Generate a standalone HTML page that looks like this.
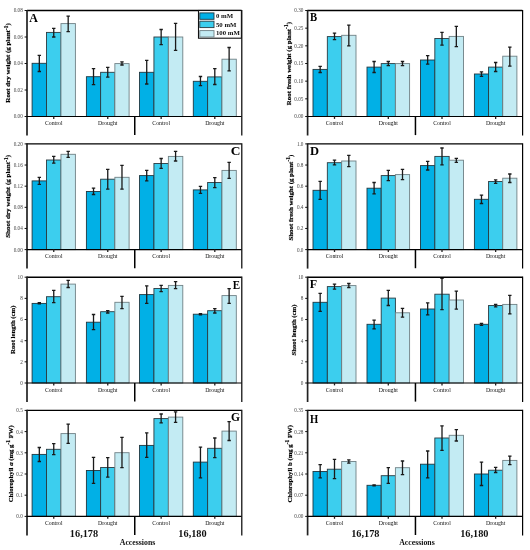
<!DOCTYPE html>
<html><head><meta charset="utf-8"><style>
html,body{margin:0;padding:0;background:#fff;}
svg{display:block;will-change:transform;}
text{font-family:"Liberation Serif",serif;}
.tk{font-size:5.2px;fill:#444;text-anchor:end;}
.xl{font-size:5.8px;fill:#111;text-anchor:middle;}
.yt{font-size:6.5px;font-weight:bold;fill:#000;stroke:#000;stroke-width:0.18px;text-anchor:middle;}
.lt{font-size:11.5px;font-weight:bold;fill:#000;}
.lg{font-size:6.3px;font-weight:bold;fill:#111;}
.acc{font-size:10.3px;font-weight:bold;fill:#111;text-anchor:middle;}
.ax{font-size:7.8px;font-weight:bold;fill:#111;text-anchor:middle;}
</style></head><body>
<svg width="530" height="550" viewBox="0 0 530 550">
<rect width="530" height="550" fill="#fff"/>
<rect x="32.1" y="63.3" width="14.43" height="53.2" fill="#01B0E6" stroke="#203840" stroke-width="0.9"/>
<rect x="46.53" y="32.4" width="14.43" height="84.1" fill="#3CCEEE" stroke="#2a3a40" stroke-width="0.9"/>
<rect x="60.97" y="23.6" width="14.43" height="92.9" fill="#C3EBF3" stroke="#6f8085" stroke-width="0.9"/>
<rect x="86.4" y="76.7" width="14.23" height="39.8" fill="#01B0E6" stroke="#203840" stroke-width="0.9"/>
<rect x="100.63" y="72.3" width="14.23" height="44.2" fill="#3CCEEE" stroke="#2a3a40" stroke-width="0.9"/>
<rect x="114.87" y="63.6" width="14.23" height="52.9" fill="#C3EBF3" stroke="#6f8085" stroke-width="0.9"/>
<rect x="139.5" y="72.3" width="14.43" height="44.2" fill="#01B0E6" stroke="#203840" stroke-width="0.9"/>
<rect x="153.93" y="37" width="14.43" height="79.5" fill="#3CCEEE" stroke="#2a3a40" stroke-width="0.9"/>
<rect x="168.37" y="37" width="14.43" height="79.5" fill="#C3EBF3" stroke="#6f8085" stroke-width="0.9"/>
<rect x="193.3" y="81.3" width="14.33" height="35.2" fill="#01B0E6" stroke="#203840" stroke-width="0.9"/>
<rect x="207.63" y="76.9" width="14.33" height="39.6" fill="#3CCEEE" stroke="#2a3a40" stroke-width="0.9"/>
<rect x="221.97" y="59.2" width="14.33" height="57.3" fill="#C3EBF3" stroke="#6f8085" stroke-width="0.9"/>
<path d="M39.32 55.4V71.5M37.62 55.4h3.4M37.62 71.5h3.4" stroke="#1a1a1a" stroke-width="1.3" fill="none"/>
<path d="M53.75 28.4V37M52.05 28.4h3.4M52.05 37h3.4" stroke="#1a1a1a" stroke-width="1.3" fill="none"/>
<path d="M68.18 16.1V31.6M66.48 16.1h3.4M66.48 31.6h3.4" stroke="#1a1a1a" stroke-width="1.3" fill="none"/>
<path d="M93.52 68.6V84.7M91.82 68.6h3.4M91.82 84.7h3.4" stroke="#1a1a1a" stroke-width="1.3" fill="none"/>
<path d="M107.75 67.3V77.1M106.05 67.3h3.4M106.05 77.1h3.4" stroke="#1a1a1a" stroke-width="1.3" fill="none"/>
<path d="M121.98 61.9V65M120.28 61.9h3.4M120.28 65h3.4" stroke="#1a1a1a" stroke-width="1.3" fill="none"/>
<path d="M146.72 60.4V84M145.02 60.4h3.4M145.02 84h3.4" stroke="#1a1a1a" stroke-width="1.3" fill="none"/>
<path d="M161.15 29.5V44.7M159.45 29.5h3.4M159.45 44.7h3.4" stroke="#1a1a1a" stroke-width="1.3" fill="none"/>
<path d="M175.58 23.4V50.4M173.88 23.4h3.4M173.88 50.4h3.4" stroke="#1a1a1a" stroke-width="1.3" fill="none"/>
<path d="M200.47 76.5V85.7M198.77 76.5h3.4M198.77 85.7h3.4" stroke="#1a1a1a" stroke-width="1.3" fill="none"/>
<path d="M214.8 68.6V84.5M213.1 68.6h3.4M213.1 84.5h3.4" stroke="#1a1a1a" stroke-width="1.3" fill="none"/>
<path d="M229.13 47.5V70.9M227.43 47.5h3.4M227.43 70.9h3.4" stroke="#1a1a1a" stroke-width="1.3" fill="none"/>
<path d="M27 10.5H241.5" stroke="#000" stroke-width="1.35" fill="none"/>
<path d="M241.8 9.9V135.5" stroke="#000" stroke-width="1.2" fill="none"/>
<path d="M27 9.9V135.5" stroke="#222" stroke-width="1.7" fill="none"/>
<path d="M27 116.5H241.5" stroke="#000" stroke-width="1.15" fill="none"/>
<path d="M134.75 116.5V135.1" stroke="#000" stroke-width="1.5" fill="none"/>
<path d="M53.75 116.5V118.9" stroke="#222" stroke-width="1.3"/>
<path d="M107.75 116.5V118.9" stroke="#222" stroke-width="1.3"/>
<path d="M161.15 116.5V118.9" stroke="#222" stroke-width="1.3"/>
<path d="M214.8 116.5V118.9" stroke="#222" stroke-width="1.3"/>
<path d="M24.6 10.5H27" stroke="#111" stroke-width="1"/>
<text transform="translate(22.8,12.4) scale(1,1.1)" class="tk">0.08</text>
<path d="M24.6 37H27" stroke="#111" stroke-width="1"/>
<text transform="translate(22.8,38.9) scale(1,1.1)" class="tk">0.06</text>
<path d="M24.6 63.5H27" stroke="#111" stroke-width="1"/>
<text transform="translate(22.8,65.4) scale(1,1.1)" class="tk">0.04</text>
<path d="M24.6 90H27" stroke="#111" stroke-width="1"/>
<text transform="translate(22.8,91.9) scale(1,1.1)" class="tk">0.02</text>
<path d="M24.6 116.5H27" stroke="#111" stroke-width="1"/>
<text transform="translate(22.8,118.4) scale(1,1.1)" class="tk">0.00</text>
<text x="53.75" y="125.1" class="xl">Control</text>
<text x="107.75" y="125.1" class="xl">Drought</text>
<text x="161.15" y="125.1" class="xl">Control</text>
<text x="214.8" y="125.1" class="xl">Drought</text>
<text transform="translate(10.4,62.9) rotate(-90) scale(1.07,1)" class="yt">Root dry weight (g plant<tspan baseline-shift="super" font-size="5.2">-1</tspan>)</text>
<text transform="translate(29.3,21.5) scale(1.04,1.12)" class="lt">A</text>
<rect x="313" y="69.4" width="14.33" height="47.1" fill="#01B0E6" stroke="#203840" stroke-width="0.9"/>
<rect x="327.33" y="36.6" width="14.33" height="79.9" fill="#3CCEEE" stroke="#2a3a40" stroke-width="0.9"/>
<rect x="341.67" y="35.3" width="14.33" height="81.2" fill="#C3EBF3" stroke="#6f8085" stroke-width="0.9"/>
<rect x="367" y="67.1" width="14.2" height="49.4" fill="#01B0E6" stroke="#203840" stroke-width="0.9"/>
<rect x="381.2" y="63.6" width="14.2" height="52.9" fill="#3CCEEE" stroke="#2a3a40" stroke-width="0.9"/>
<rect x="395.4" y="63.6" width="14.2" height="52.9" fill="#C3EBF3" stroke="#6f8085" stroke-width="0.9"/>
<rect x="420.5" y="60" width="14.33" height="56.5" fill="#01B0E6" stroke="#203840" stroke-width="0.9"/>
<rect x="434.83" y="38.5" width="14.33" height="78" fill="#3CCEEE" stroke="#2a3a40" stroke-width="0.9"/>
<rect x="449.17" y="36.4" width="14.33" height="80.1" fill="#C3EBF3" stroke="#6f8085" stroke-width="0.9"/>
<rect x="474.4" y="74" width="14.17" height="42.5" fill="#01B0E6" stroke="#203840" stroke-width="0.9"/>
<rect x="488.57" y="67.1" width="14.17" height="49.4" fill="#3CCEEE" stroke="#2a3a40" stroke-width="0.9"/>
<rect x="502.73" y="56.2" width="14.17" height="60.3" fill="#C3EBF3" stroke="#6f8085" stroke-width="0.9"/>
<path d="M320.17 66.3V72.5M318.47 66.3h3.4M318.47 72.5h3.4" stroke="#1a1a1a" stroke-width="1.3" fill="none"/>
<path d="M334.5 33.2V39.7M332.8 33.2h3.4M332.8 39.7h3.4" stroke="#1a1a1a" stroke-width="1.3" fill="none"/>
<path d="M348.83 25.1V45.8M347.13 25.1h3.4M347.13 45.8h3.4" stroke="#1a1a1a" stroke-width="1.3" fill="none"/>
<path d="M374.1 61.5V72.5M372.4 61.5h3.4M372.4 72.5h3.4" stroke="#1a1a1a" stroke-width="1.3" fill="none"/>
<path d="M388.3 61.5V65.6M386.6 61.5h3.4M386.6 65.6h3.4" stroke="#1a1a1a" stroke-width="1.3" fill="none"/>
<path d="M402.5 61.5V65.6M400.8 61.5h3.4M400.8 65.6h3.4" stroke="#1a1a1a" stroke-width="1.3" fill="none"/>
<path d="M427.67 55.6V64.2M425.97 55.6h3.4M425.97 64.2h3.4" stroke="#1a1a1a" stroke-width="1.3" fill="none"/>
<path d="M442 32.4V45.2M440.3 32.4h3.4M440.3 45.2h3.4" stroke="#1a1a1a" stroke-width="1.3" fill="none"/>
<path d="M456.33 26.3V46.6M454.63 26.3h3.4M454.63 46.6h3.4" stroke="#1a1a1a" stroke-width="1.3" fill="none"/>
<path d="M481.48 71.9V76.3M479.78 71.9h3.4M479.78 76.3h3.4" stroke="#1a1a1a" stroke-width="1.3" fill="none"/>
<path d="M495.65 62.5V71.5M493.95 62.5h3.4M493.95 71.5h3.4" stroke="#1a1a1a" stroke-width="1.3" fill="none"/>
<path d="M509.82 47.2V66.1M508.12 47.2h3.4M508.12 66.1h3.4" stroke="#1a1a1a" stroke-width="1.3" fill="none"/>
<path d="M307.6 10.5H522.3" stroke="#000" stroke-width="1.35" fill="none"/>
<path d="M522.6 9.9V135.5" stroke="#000" stroke-width="1.2" fill="none"/>
<path d="M307.6 9.9V135.5" stroke="#222" stroke-width="1.7" fill="none"/>
<path d="M307.6 116.5H522.3" stroke="#000" stroke-width="1.15" fill="none"/>
<path d="M415.45 116.5V135.1" stroke="#000" stroke-width="1.5" fill="none"/>
<path d="M334.5 116.5V118.9" stroke="#222" stroke-width="1.3"/>
<path d="M388.3 116.5V118.9" stroke="#222" stroke-width="1.3"/>
<path d="M442 116.5V118.9" stroke="#222" stroke-width="1.3"/>
<path d="M495.65 116.5V118.9" stroke="#222" stroke-width="1.3"/>
<path d="M305.2 10.5H307.6" stroke="#111" stroke-width="1"/>
<text transform="translate(303.4,12.4) scale(1,1.1)" class="tk">0.30</text>
<path d="M305.2 28.17H307.6" stroke="#111" stroke-width="1"/>
<text transform="translate(303.4,30.07) scale(1,1.1)" class="tk">0.25</text>
<path d="M305.2 45.83H307.6" stroke="#111" stroke-width="1"/>
<text transform="translate(303.4,47.73) scale(1,1.1)" class="tk">0.20</text>
<path d="M305.2 63.5H307.6" stroke="#111" stroke-width="1"/>
<text transform="translate(303.4,65.4) scale(1,1.1)" class="tk">0.15</text>
<path d="M305.2 81.17H307.6" stroke="#111" stroke-width="1"/>
<text transform="translate(303.4,83.07) scale(1,1.1)" class="tk">0.10</text>
<path d="M305.2 98.83H307.6" stroke="#111" stroke-width="1"/>
<text transform="translate(303.4,100.73) scale(1,1.1)" class="tk">0.05</text>
<path d="M305.2 116.5H307.6" stroke="#111" stroke-width="1"/>
<text transform="translate(303.4,118.4) scale(1,1.1)" class="tk">0.00</text>
<text x="334.5" y="125.1" class="xl">Control</text>
<text x="388.3" y="125.1" class="xl">Drought</text>
<text x="442" y="125.1" class="xl">Control</text>
<text x="495.65" y="125.1" class="xl">Drought</text>
<text transform="translate(290.9,63.6) rotate(-90) scale(1.06,1)" class="yt">Root fresh weight (g plant<tspan baseline-shift="super" font-size="5.2">-1</tspan>)</text>
<text transform="translate(310.05,21.2) scale(0.93,1.12)" class="lt">B</text>
<rect x="32.1" y="180.9" width="14.43" height="68.7" fill="#01B0E6" stroke="#203840" stroke-width="0.9"/>
<rect x="46.53" y="160" width="14.43" height="89.6" fill="#3CCEEE" stroke="#2a3a40" stroke-width="0.9"/>
<rect x="60.97" y="154.3" width="14.43" height="95.3" fill="#C3EBF3" stroke="#6f8085" stroke-width="0.9"/>
<rect x="86.4" y="191.5" width="14.23" height="58.1" fill="#01B0E6" stroke="#203840" stroke-width="0.9"/>
<rect x="100.63" y="179.2" width="14.23" height="70.4" fill="#3CCEEE" stroke="#2a3a40" stroke-width="0.9"/>
<rect x="114.87" y="177.3" width="14.23" height="72.3" fill="#C3EBF3" stroke="#6f8085" stroke-width="0.9"/>
<rect x="139.5" y="175.6" width="14.43" height="74" fill="#01B0E6" stroke="#203840" stroke-width="0.9"/>
<rect x="153.93" y="163.5" width="14.43" height="86.1" fill="#3CCEEE" stroke="#2a3a40" stroke-width="0.9"/>
<rect x="168.37" y="156.4" width="14.43" height="93.2" fill="#C3EBF3" stroke="#6f8085" stroke-width="0.9"/>
<rect x="193.3" y="189.9" width="14.33" height="59.7" fill="#01B0E6" stroke="#203840" stroke-width="0.9"/>
<rect x="207.63" y="182.5" width="14.33" height="67.1" fill="#3CCEEE" stroke="#2a3a40" stroke-width="0.9"/>
<rect x="221.97" y="170.4" width="14.33" height="79.2" fill="#C3EBF3" stroke="#6f8085" stroke-width="0.9"/>
<path d="M39.32 177.3V184.4M37.62 177.3h3.4M37.62 184.4h3.4" stroke="#1a1a1a" stroke-width="1.3" fill="none"/>
<path d="M53.75 156.4V163.1M52.05 156.4h3.4M52.05 163.1h3.4" stroke="#1a1a1a" stroke-width="1.3" fill="none"/>
<path d="M68.18 151.4V157.4M66.48 151.4h3.4M66.48 157.4h3.4" stroke="#1a1a1a" stroke-width="1.3" fill="none"/>
<path d="M93.52 188.2V194.5M91.82 188.2h3.4M91.82 194.5h3.4" stroke="#1a1a1a" stroke-width="1.3" fill="none"/>
<path d="M107.75 169.4V189.2M106.05 169.4h3.4M106.05 189.2h3.4" stroke="#1a1a1a" stroke-width="1.3" fill="none"/>
<path d="M121.98 165.4V189.2M120.28 165.4h3.4M120.28 189.2h3.4" stroke="#1a1a1a" stroke-width="1.3" fill="none"/>
<path d="M146.72 170.4V180.9M145.02 170.4h3.4M145.02 180.9h3.4" stroke="#1a1a1a" stroke-width="1.3" fill="none"/>
<path d="M161.15 158.5V168.3M159.45 158.5h3.4M159.45 168.3h3.4" stroke="#1a1a1a" stroke-width="1.3" fill="none"/>
<path d="M175.58 151.4V161M173.88 151.4h3.4M173.88 161h3.4" stroke="#1a1a1a" stroke-width="1.3" fill="none"/>
<path d="M200.47 186.3V193.4M198.77 186.3h3.4M198.77 193.4h3.4" stroke="#1a1a1a" stroke-width="1.3" fill="none"/>
<path d="M214.8 177.7V187.6M213.1 177.7h3.4M213.1 187.6h3.4" stroke="#1a1a1a" stroke-width="1.3" fill="none"/>
<path d="M229.13 162.3V178.4M227.43 162.3h3.4M227.43 178.4h3.4" stroke="#1a1a1a" stroke-width="1.3" fill="none"/>
<path d="M27 143.9H241.5" stroke="#000" stroke-width="1.35" fill="none"/>
<path d="M241.8 143.3V268.6" stroke="#000" stroke-width="1.2" fill="none"/>
<path d="M27 143.3V268.6" stroke="#222" stroke-width="1.7" fill="none"/>
<path d="M27 249.6H241.5" stroke="#000" stroke-width="1.15" fill="none"/>
<path d="M134.75 249.6V268.2" stroke="#000" stroke-width="1.5" fill="none"/>
<path d="M53.75 249.6V252" stroke="#222" stroke-width="1.3"/>
<path d="M107.75 249.6V252" stroke="#222" stroke-width="1.3"/>
<path d="M161.15 249.6V252" stroke="#222" stroke-width="1.3"/>
<path d="M214.8 249.6V252" stroke="#222" stroke-width="1.3"/>
<path d="M24.6 143.9H27" stroke="#111" stroke-width="1"/>
<text transform="translate(22.8,145.8) scale(1,1.1)" class="tk">0.20</text>
<path d="M24.6 165.04H27" stroke="#111" stroke-width="1"/>
<text transform="translate(22.8,166.94) scale(1,1.1)" class="tk">0.16</text>
<path d="M24.6 186.18H27" stroke="#111" stroke-width="1"/>
<text transform="translate(22.8,188.08) scale(1,1.1)" class="tk">0.12</text>
<path d="M24.6 207.32H27" stroke="#111" stroke-width="1"/>
<text transform="translate(22.8,209.22) scale(1,1.1)" class="tk">0.08</text>
<path d="M24.6 228.46H27" stroke="#111" stroke-width="1"/>
<text transform="translate(22.8,230.36) scale(1,1.1)" class="tk">0.04</text>
<path d="M24.6 249.6H27" stroke="#111" stroke-width="1"/>
<text transform="translate(22.8,251.5) scale(1,1.1)" class="tk">0.00</text>
<text x="53.75" y="258.2" class="xl">Control</text>
<text x="107.75" y="258.2" class="xl">Drought</text>
<text x="161.15" y="258.2" class="xl">Control</text>
<text x="214.8" y="258.2" class="xl">Drought</text>
<text transform="translate(10.4,196.35) rotate(-90) scale(1.08,1)" class="yt">Shoot dry weight (g plant<tspan baseline-shift="super" font-size="5.2">-1</tspan>)</text>
<text transform="translate(240.55,155.15) scale(1.17,1.12)" class="lt" text-anchor="end">C</text>
<rect x="313" y="190.3" width="14.33" height="59.3" fill="#01B0E6" stroke="#203840" stroke-width="0.9"/>
<rect x="327.33" y="162.7" width="14.33" height="86.9" fill="#3CCEEE" stroke="#2a3a40" stroke-width="0.9"/>
<rect x="341.67" y="161" width="14.33" height="88.6" fill="#C3EBF3" stroke="#6f8085" stroke-width="0.9"/>
<rect x="367" y="188.2" width="14.2" height="61.4" fill="#01B0E6" stroke="#203840" stroke-width="0.9"/>
<rect x="381.2" y="175.6" width="14.2" height="74" fill="#3CCEEE" stroke="#2a3a40" stroke-width="0.9"/>
<rect x="395.4" y="174.6" width="14.2" height="75" fill="#C3EBF3" stroke="#6f8085" stroke-width="0.9"/>
<rect x="420.5" y="165.6" width="14.33" height="84" fill="#01B0E6" stroke="#203840" stroke-width="0.9"/>
<rect x="434.83" y="156.4" width="14.33" height="93.2" fill="#3CCEEE" stroke="#2a3a40" stroke-width="0.9"/>
<rect x="449.17" y="160.2" width="14.33" height="89.4" fill="#C3EBF3" stroke="#6f8085" stroke-width="0.9"/>
<rect x="474.4" y="199.3" width="14.17" height="50.3" fill="#01B0E6" stroke="#203840" stroke-width="0.9"/>
<rect x="488.57" y="181.5" width="14.17" height="68.1" fill="#3CCEEE" stroke="#2a3a40" stroke-width="0.9"/>
<rect x="502.73" y="178.2" width="14.17" height="71.4" fill="#C3EBF3" stroke="#6f8085" stroke-width="0.9"/>
<path d="M320.17 181.3V199.3M318.47 181.3h3.4M318.47 199.3h3.4" stroke="#1a1a1a" stroke-width="1.3" fill="none"/>
<path d="M334.5 160.2V164.8M332.8 160.2h3.4M332.8 164.8h3.4" stroke="#1a1a1a" stroke-width="1.3" fill="none"/>
<path d="M348.83 155.4V166.6M347.13 155.4h3.4M347.13 166.6h3.4" stroke="#1a1a1a" stroke-width="1.3" fill="none"/>
<path d="M374.1 182.5V193.8M372.4 182.5h3.4M372.4 193.8h3.4" stroke="#1a1a1a" stroke-width="1.3" fill="none"/>
<path d="M388.3 170.4V180.7M386.6 170.4h3.4M386.6 180.7h3.4" stroke="#1a1a1a" stroke-width="1.3" fill="none"/>
<path d="M402.5 169.4V179.6M400.8 169.4h3.4M400.8 179.6h3.4" stroke="#1a1a1a" stroke-width="1.3" fill="none"/>
<path d="M427.67 161.4V170M425.97 161.4h3.4M425.97 170h3.4" stroke="#1a1a1a" stroke-width="1.3" fill="none"/>
<path d="M442 148V164.8M440.3 148h3.4M440.3 164.8h3.4" stroke="#1a1a1a" stroke-width="1.3" fill="none"/>
<path d="M456.33 158.3V162.3M454.63 158.3h3.4M454.63 162.3h3.4" stroke="#1a1a1a" stroke-width="1.3" fill="none"/>
<path d="M481.48 195.1V203.5M479.78 195.1h3.4M479.78 203.5h3.4" stroke="#1a1a1a" stroke-width="1.3" fill="none"/>
<path d="M495.65 179.8V183.4M493.95 179.8h3.4M493.95 183.4h3.4" stroke="#1a1a1a" stroke-width="1.3" fill="none"/>
<path d="M509.82 174V182.5M508.12 174h3.4M508.12 182.5h3.4" stroke="#1a1a1a" stroke-width="1.3" fill="none"/>
<path d="M307.6 143.9H522.3" stroke="#000" stroke-width="1.35" fill="none"/>
<path d="M522.6 143.3V268.6" stroke="#000" stroke-width="1.2" fill="none"/>
<path d="M307.6 143.3V268.6" stroke="#222" stroke-width="1.7" fill="none"/>
<path d="M307.6 249.6H522.3" stroke="#000" stroke-width="1.15" fill="none"/>
<path d="M415.45 249.6V268.2" stroke="#000" stroke-width="1.5" fill="none"/>
<path d="M334.5 249.6V252" stroke="#222" stroke-width="1.3"/>
<path d="M388.3 249.6V252" stroke="#222" stroke-width="1.3"/>
<path d="M442 249.6V252" stroke="#222" stroke-width="1.3"/>
<path d="M495.65 249.6V252" stroke="#222" stroke-width="1.3"/>
<path d="M305.2 143.9H307.6" stroke="#111" stroke-width="1"/>
<text transform="translate(303.4,145.8) scale(1,1.1)" class="tk">1.0</text>
<path d="M305.2 165.04H307.6" stroke="#111" stroke-width="1"/>
<text transform="translate(303.4,166.94) scale(1,1.1)" class="tk">0.8</text>
<path d="M305.2 186.18H307.6" stroke="#111" stroke-width="1"/>
<text transform="translate(303.4,188.08) scale(1,1.1)" class="tk">0.6</text>
<path d="M305.2 207.32H307.6" stroke="#111" stroke-width="1"/>
<text transform="translate(303.4,209.22) scale(1,1.1)" class="tk">0.4</text>
<path d="M305.2 228.46H307.6" stroke="#111" stroke-width="1"/>
<text transform="translate(303.4,230.36) scale(1,1.1)" class="tk">0.2</text>
<path d="M305.2 249.6H307.6" stroke="#111" stroke-width="1"/>
<text transform="translate(303.4,251.5) scale(1,1.1)" class="tk">0.0</text>
<text x="334.5" y="258.2" class="xl">Control</text>
<text x="388.3" y="258.2" class="xl">Drought</text>
<text x="442" y="258.2" class="xl">Control</text>
<text x="495.65" y="258.2" class="xl">Drought</text>
<text transform="translate(293.4,197.65) rotate(-90) scale(1.06,1)" class="yt">Shoot fresh weight (g plant<tspan baseline-shift="super" font-size="5.2">-1</tspan>)</text>
<text transform="translate(310.05,154.65) scale(1.09,1.12)" class="lt">D</text>
<rect x="32.1" y="303.4" width="14.43" height="79.6" fill="#01B0E6" stroke="#203840" stroke-width="0.9"/>
<rect x="46.53" y="296.7" width="14.43" height="86.3" fill="#3CCEEE" stroke="#2a3a40" stroke-width="0.9"/>
<rect x="60.97" y="284.1" width="14.43" height="98.9" fill="#C3EBF3" stroke="#6f8085" stroke-width="0.9"/>
<rect x="86.4" y="322.2" width="14.23" height="60.8" fill="#01B0E6" stroke="#203840" stroke-width="0.9"/>
<rect x="100.63" y="311.7" width="14.23" height="71.3" fill="#3CCEEE" stroke="#2a3a40" stroke-width="0.9"/>
<rect x="114.87" y="302.3" width="14.23" height="80.7" fill="#C3EBF3" stroke="#6f8085" stroke-width="0.9"/>
<rect x="139.5" y="294.6" width="14.43" height="88.4" fill="#01B0E6" stroke="#203840" stroke-width="0.9"/>
<rect x="153.93" y="288.5" width="14.43" height="94.5" fill="#3CCEEE" stroke="#2a3a40" stroke-width="0.9"/>
<rect x="168.37" y="285.4" width="14.43" height="97.6" fill="#C3EBF3" stroke="#6f8085" stroke-width="0.9"/>
<rect x="193.3" y="314.2" width="14.33" height="68.8" fill="#01B0E6" stroke="#203840" stroke-width="0.9"/>
<rect x="207.63" y="310.7" width="14.33" height="72.3" fill="#3CCEEE" stroke="#2a3a40" stroke-width="0.9"/>
<rect x="221.97" y="295.6" width="14.33" height="87.4" fill="#C3EBF3" stroke="#6f8085" stroke-width="0.9"/>
<path d="M39.32 302.7V303.8M37.62 302.7h3.4M37.62 303.8h3.4" stroke="#1a1a1a" stroke-width="1.3" fill="none"/>
<path d="M53.75 290.4V302.7M52.05 290.4h3.4M52.05 302.7h3.4" stroke="#1a1a1a" stroke-width="1.3" fill="none"/>
<path d="M68.18 280.4V287.5M66.48 280.4h3.4M66.48 287.5h3.4" stroke="#1a1a1a" stroke-width="1.3" fill="none"/>
<path d="M93.52 314.5V329.7M91.82 314.5h3.4M91.82 329.7h3.4" stroke="#1a1a1a" stroke-width="1.3" fill="none"/>
<path d="M107.75 310.7V313M106.05 310.7h3.4M106.05 313h3.4" stroke="#1a1a1a" stroke-width="1.3" fill="none"/>
<path d="M121.98 296.3V308.6M120.28 296.3h3.4M120.28 308.6h3.4" stroke="#1a1a1a" stroke-width="1.3" fill="none"/>
<path d="M146.72 285.8V303.4M145.02 285.8h3.4M145.02 303.4h3.4" stroke="#1a1a1a" stroke-width="1.3" fill="none"/>
<path d="M161.15 285.4V291.7M159.45 285.4h3.4M159.45 291.7h3.4" stroke="#1a1a1a" stroke-width="1.3" fill="none"/>
<path d="M175.58 281.6V288.7M173.88 281.6h3.4M173.88 288.7h3.4" stroke="#1a1a1a" stroke-width="1.3" fill="none"/>
<path d="M200.47 313.6V314.9M198.77 313.6h3.4M198.77 314.9h3.4" stroke="#1a1a1a" stroke-width="1.3" fill="none"/>
<path d="M214.8 308.6V313M213.1 308.6h3.4M213.1 313h3.4" stroke="#1a1a1a" stroke-width="1.3" fill="none"/>
<path d="M229.13 288.7V303.4M227.43 288.7h3.4M227.43 303.4h3.4" stroke="#1a1a1a" stroke-width="1.3" fill="none"/>
<path d="M27 277.2H241.5" stroke="#000" stroke-width="1.35" fill="none"/>
<path d="M241.8 276.6V402" stroke="#000" stroke-width="1.2" fill="none"/>
<path d="M27 276.6V402" stroke="#222" stroke-width="1.7" fill="none"/>
<path d="M27 383H241.5" stroke="#000" stroke-width="1.15" fill="none"/>
<path d="M134.75 383V401.6" stroke="#000" stroke-width="1.5" fill="none"/>
<path d="M53.75 383V385.4" stroke="#222" stroke-width="1.3"/>
<path d="M107.75 383V385.4" stroke="#222" stroke-width="1.3"/>
<path d="M161.15 383V385.4" stroke="#222" stroke-width="1.3"/>
<path d="M214.8 383V385.4" stroke="#222" stroke-width="1.3"/>
<path d="M24.6 277.2H27" stroke="#111" stroke-width="1"/>
<text transform="translate(22.8,279.1) scale(1,1.1)" class="tk">10</text>
<path d="M24.6 298.36H27" stroke="#111" stroke-width="1"/>
<text transform="translate(22.8,300.26) scale(1,1.1)" class="tk">8</text>
<path d="M24.6 319.52H27" stroke="#111" stroke-width="1"/>
<text transform="translate(22.8,321.42) scale(1,1.1)" class="tk">6</text>
<path d="M24.6 340.68H27" stroke="#111" stroke-width="1"/>
<text transform="translate(22.8,342.58) scale(1,1.1)" class="tk">4</text>
<path d="M24.6 361.84H27" stroke="#111" stroke-width="1"/>
<text transform="translate(22.8,363.74) scale(1,1.1)" class="tk">2</text>
<path d="M24.6 383H27" stroke="#111" stroke-width="1"/>
<text transform="translate(22.8,384.9) scale(1,1.1)" class="tk">0</text>
<text x="53.75" y="391.6" class="xl">Control</text>
<text x="107.75" y="391.6" class="xl">Drought</text>
<text x="161.15" y="391.6" class="xl">Control</text>
<text x="214.8" y="391.6" class="xl">Drought</text>
<text transform="translate(14.9,329.75) rotate(-90) scale(1.04,1)" class="yt">Root length (cm)</text>
<text transform="translate(240.1,288.5) scale(0.96,1.12)" class="lt" text-anchor="end">E</text>
<rect x="313" y="302.3" width="14.33" height="80.7" fill="#01B0E6" stroke="#203840" stroke-width="0.9"/>
<rect x="327.33" y="286.6" width="14.33" height="96.4" fill="#3CCEEE" stroke="#2a3a40" stroke-width="0.9"/>
<rect x="341.67" y="285.6" width="14.33" height="97.4" fill="#C3EBF3" stroke="#6f8085" stroke-width="0.9"/>
<rect x="367" y="324.3" width="14.2" height="58.7" fill="#01B0E6" stroke="#203840" stroke-width="0.9"/>
<rect x="381.2" y="298.1" width="14.2" height="84.9" fill="#3CCEEE" stroke="#2a3a40" stroke-width="0.9"/>
<rect x="395.4" y="312.8" width="14.2" height="70.2" fill="#C3EBF3" stroke="#6f8085" stroke-width="0.9"/>
<rect x="420.5" y="309" width="14.33" height="74" fill="#01B0E6" stroke="#203840" stroke-width="0.9"/>
<rect x="434.83" y="294.2" width="14.33" height="88.8" fill="#3CCEEE" stroke="#2a3a40" stroke-width="0.9"/>
<rect x="449.17" y="300" width="14.33" height="83" fill="#C3EBF3" stroke="#6f8085" stroke-width="0.9"/>
<rect x="474.4" y="324.3" width="14.17" height="58.7" fill="#01B0E6" stroke="#203840" stroke-width="0.9"/>
<rect x="488.57" y="305.5" width="14.17" height="77.5" fill="#3CCEEE" stroke="#2a3a40" stroke-width="0.9"/>
<rect x="502.73" y="304.4" width="14.17" height="78.6" fill="#C3EBF3" stroke="#6f8085" stroke-width="0.9"/>
<path d="M320.17 293.3V311.3M318.47 293.3h3.4M318.47 311.3h3.4" stroke="#1a1a1a" stroke-width="1.3" fill="none"/>
<path d="M334.5 284.1V289.1M332.8 284.1h3.4M332.8 289.1h3.4" stroke="#1a1a1a" stroke-width="1.3" fill="none"/>
<path d="M348.83 283.5V287.5M347.13 283.5h3.4M347.13 287.5h3.4" stroke="#1a1a1a" stroke-width="1.3" fill="none"/>
<path d="M374.1 320.1V328.9M372.4 320.1h3.4M372.4 328.9h3.4" stroke="#1a1a1a" stroke-width="1.3" fill="none"/>
<path d="M388.3 290.4V305.5M386.6 290.4h3.4M386.6 305.5h3.4" stroke="#1a1a1a" stroke-width="1.3" fill="none"/>
<path d="M402.5 308.4V317.2M400.8 308.4h3.4M400.8 317.2h3.4" stroke="#1a1a1a" stroke-width="1.3" fill="none"/>
<path d="M427.67 302.9V314.9M425.97 302.9h3.4M425.97 314.9h3.4" stroke="#1a1a1a" stroke-width="1.3" fill="none"/>
<path d="M442 278.3V309.6M440.3 278.3h3.4M440.3 309.6h3.4" stroke="#1a1a1a" stroke-width="1.3" fill="none"/>
<path d="M456.33 291.2V309.2M454.63 291.2h3.4M454.63 309.2h3.4" stroke="#1a1a1a" stroke-width="1.3" fill="none"/>
<path d="M481.48 323.4V325.3M479.78 323.4h3.4M479.78 325.3h3.4" stroke="#1a1a1a" stroke-width="1.3" fill="none"/>
<path d="M495.65 304.4V306.9M493.95 304.4h3.4M493.95 306.9h3.4" stroke="#1a1a1a" stroke-width="1.3" fill="none"/>
<path d="M509.82 295.4V313.8M508.12 295.4h3.4M508.12 313.8h3.4" stroke="#1a1a1a" stroke-width="1.3" fill="none"/>
<path d="M307.6 277.2H522.3" stroke="#000" stroke-width="1.35" fill="none"/>
<path d="M522.6 276.6V402" stroke="#000" stroke-width="1.2" fill="none"/>
<path d="M307.6 276.6V402" stroke="#222" stroke-width="1.7" fill="none"/>
<path d="M307.6 383H522.3" stroke="#000" stroke-width="1.15" fill="none"/>
<path d="M415.45 383V401.6" stroke="#000" stroke-width="1.5" fill="none"/>
<path d="M334.5 383V385.4" stroke="#222" stroke-width="1.3"/>
<path d="M388.3 383V385.4" stroke="#222" stroke-width="1.3"/>
<path d="M442 383V385.4" stroke="#222" stroke-width="1.3"/>
<path d="M495.65 383V385.4" stroke="#222" stroke-width="1.3"/>
<path d="M305.2 277.2H307.6" stroke="#111" stroke-width="1"/>
<text transform="translate(303.4,279.1) scale(1,1.1)" class="tk">10</text>
<path d="M305.2 298.36H307.6" stroke="#111" stroke-width="1"/>
<text transform="translate(303.4,300.26) scale(1,1.1)" class="tk">8</text>
<path d="M305.2 319.52H307.6" stroke="#111" stroke-width="1"/>
<text transform="translate(303.4,321.42) scale(1,1.1)" class="tk">6</text>
<path d="M305.2 340.68H307.6" stroke="#111" stroke-width="1"/>
<text transform="translate(303.4,342.58) scale(1,1.1)" class="tk">4</text>
<path d="M305.2 361.84H307.6" stroke="#111" stroke-width="1"/>
<text transform="translate(303.4,363.74) scale(1,1.1)" class="tk">2</text>
<path d="M305.2 383H307.6" stroke="#111" stroke-width="1"/>
<text transform="translate(303.4,384.9) scale(1,1.1)" class="tk">0</text>
<text x="334.5" y="391.6" class="xl">Control</text>
<text x="388.3" y="391.6" class="xl">Drought</text>
<text x="442" y="391.6" class="xl">Control</text>
<text x="495.65" y="391.6" class="xl">Drought</text>
<text transform="translate(295.6,330.05) rotate(-90) scale(1.04,1)" class="yt">Shoot length (cm)</text>
<text transform="translate(309.85,287.85) scale(1.05,1.12)" class="lt">F</text>
<rect x="32.1" y="454.4" width="14.43" height="62" fill="#01B0E6" stroke="#203840" stroke-width="0.9"/>
<rect x="46.53" y="449.3" width="14.43" height="67.1" fill="#3CCEEE" stroke="#2a3a40" stroke-width="0.9"/>
<rect x="60.97" y="433.6" width="14.43" height="82.8" fill="#C3EBF3" stroke="#6f8085" stroke-width="0.9"/>
<rect x="86.4" y="470.5" width="14.23" height="45.9" fill="#01B0E6" stroke="#203840" stroke-width="0.9"/>
<rect x="100.63" y="467.5" width="14.23" height="48.9" fill="#3CCEEE" stroke="#2a3a40" stroke-width="0.9"/>
<rect x="114.87" y="452.7" width="14.23" height="63.7" fill="#C3EBF3" stroke="#6f8085" stroke-width="0.9"/>
<rect x="139.5" y="445.4" width="14.43" height="71" fill="#01B0E6" stroke="#203840" stroke-width="0.9"/>
<rect x="153.93" y="418.6" width="14.43" height="97.8" fill="#3CCEEE" stroke="#2a3a40" stroke-width="0.9"/>
<rect x="168.37" y="417.1" width="14.43" height="99.3" fill="#C3EBF3" stroke="#6f8085" stroke-width="0.9"/>
<rect x="193.3" y="462.1" width="14.33" height="54.3" fill="#01B0E6" stroke="#203840" stroke-width="0.9"/>
<rect x="207.63" y="448.3" width="14.33" height="68.1" fill="#3CCEEE" stroke="#2a3a40" stroke-width="0.9"/>
<rect x="221.97" y="431.1" width="14.33" height="85.3" fill="#C3EBF3" stroke="#6f8085" stroke-width="0.9"/>
<path d="M39.32 447.5V461.5M37.62 447.5h3.4M37.62 461.5h3.4" stroke="#1a1a1a" stroke-width="1.3" fill="none"/>
<path d="M53.75 443.7V454.6M52.05 443.7h3.4M52.05 454.6h3.4" stroke="#1a1a1a" stroke-width="1.3" fill="none"/>
<path d="M68.18 424.2V443.3M66.48 424.2h3.4M66.48 443.3h3.4" stroke="#1a1a1a" stroke-width="1.3" fill="none"/>
<path d="M93.52 457.3V483.4M91.82 457.3h3.4M91.82 483.4h3.4" stroke="#1a1a1a" stroke-width="1.3" fill="none"/>
<path d="M107.75 457.7V477.1M106.05 457.7h3.4M106.05 477.1h3.4" stroke="#1a1a1a" stroke-width="1.3" fill="none"/>
<path d="M121.98 437.4V467.7M120.28 437.4h3.4M120.28 467.7h3.4" stroke="#1a1a1a" stroke-width="1.3" fill="none"/>
<path d="M146.72 432.8V457.3M145.02 432.8h3.4M145.02 457.3h3.4" stroke="#1a1a1a" stroke-width="1.3" fill="none"/>
<path d="M161.15 414V422.8M159.45 414h3.4M159.45 422.8h3.4" stroke="#1a1a1a" stroke-width="1.3" fill="none"/>
<path d="M175.58 411.9V422.4M173.88 411.9h3.4M173.88 422.4h3.4" stroke="#1a1a1a" stroke-width="1.3" fill="none"/>
<path d="M200.47 447.2V477.8M198.77 447.2h3.4M198.77 477.8h3.4" stroke="#1a1a1a" stroke-width="1.3" fill="none"/>
<path d="M214.8 438V457.7M213.1 438h3.4M213.1 457.7h3.4" stroke="#1a1a1a" stroke-width="1.3" fill="none"/>
<path d="M229.13 421.7V440.5M227.43 421.7h3.4M227.43 440.5h3.4" stroke="#1a1a1a" stroke-width="1.3" fill="none"/>
<path d="M27 410.4H241.5" stroke="#000" stroke-width="1.35" fill="none"/>
<path d="M241.8 409.8V535.4" stroke="#000" stroke-width="1.2" fill="none"/>
<path d="M27 409.8V535.4" stroke="#222" stroke-width="1.7" fill="none"/>
<path d="M27 516.4H241.5" stroke="#000" stroke-width="1.15" fill="none"/>
<path d="M134.75 516.4V535" stroke="#000" stroke-width="1.5" fill="none"/>
<path d="M53.75 516.4V518.8" stroke="#222" stroke-width="1.3"/>
<path d="M107.75 516.4V518.8" stroke="#222" stroke-width="1.3"/>
<path d="M161.15 516.4V518.8" stroke="#222" stroke-width="1.3"/>
<path d="M214.8 516.4V518.8" stroke="#222" stroke-width="1.3"/>
<path d="M24.6 410.4H27" stroke="#111" stroke-width="1"/>
<text transform="translate(22.8,412.3) scale(1,1.1)" class="tk">0.5</text>
<path d="M24.6 431.6H27" stroke="#111" stroke-width="1"/>
<text transform="translate(22.8,433.5) scale(1,1.1)" class="tk">0.4</text>
<path d="M24.6 452.8H27" stroke="#111" stroke-width="1"/>
<text transform="translate(22.8,454.7) scale(1,1.1)" class="tk">0.3</text>
<path d="M24.6 474H27" stroke="#111" stroke-width="1"/>
<text transform="translate(22.8,475.9) scale(1,1.1)" class="tk">0.2</text>
<path d="M24.6 495.2H27" stroke="#111" stroke-width="1"/>
<text transform="translate(22.8,497.1) scale(1,1.1)" class="tk">0.1</text>
<path d="M24.6 516.4H27" stroke="#111" stroke-width="1"/>
<text transform="translate(22.8,518.3) scale(1,1.1)" class="tk">0.0</text>
<text x="53.75" y="525" class="xl">Control</text>
<text x="107.75" y="525" class="xl">Drought</text>
<text x="161.15" y="525" class="xl">Control</text>
<text x="214.8" y="525" class="xl">Drought</text>
<text transform="translate(12.8,463.75) rotate(-90) scale(1.04,1)" class="yt">Chlorophyll <tspan font-style="italic">a</tspan> (mg g<tspan baseline-shift="super" font-size="5.2">-1</tspan> FW)</text>
<text transform="translate(240.05,420.9) scale(1.0,1.12)" class="lt" text-anchor="end">G</text>
<text x="84" y="537.4" class="acc">16,178</text>
<text x="192.5" y="537.4" class="acc">16,180</text>
<text x="137.55" y="544.6" class="ax">Accessions</text>
<rect x="313" y="471.5" width="14.33" height="44.9" fill="#01B0E6" stroke="#203840" stroke-width="0.9"/>
<rect x="327.33" y="469.2" width="14.33" height="47.2" fill="#3CCEEE" stroke="#2a3a40" stroke-width="0.9"/>
<rect x="341.67" y="461.5" width="14.33" height="54.9" fill="#C3EBF3" stroke="#6f8085" stroke-width="0.9"/>
<rect x="367" y="485.3" width="14.2" height="31.1" fill="#01B0E6" stroke="#203840" stroke-width="0.9"/>
<rect x="381.2" y="475.7" width="14.2" height="40.7" fill="#3CCEEE" stroke="#2a3a40" stroke-width="0.9"/>
<rect x="395.4" y="467.7" width="14.2" height="48.7" fill="#C3EBF3" stroke="#6f8085" stroke-width="0.9"/>
<rect x="420.5" y="464.2" width="14.33" height="52.2" fill="#01B0E6" stroke="#203840" stroke-width="0.9"/>
<rect x="434.83" y="438" width="14.33" height="78.4" fill="#3CCEEE" stroke="#2a3a40" stroke-width="0.9"/>
<rect x="449.17" y="435.3" width="14.33" height="81.1" fill="#C3EBF3" stroke="#6f8085" stroke-width="0.9"/>
<rect x="474.4" y="474" width="14.17" height="42.4" fill="#01B0E6" stroke="#203840" stroke-width="0.9"/>
<rect x="488.57" y="470.2" width="14.17" height="46.2" fill="#3CCEEE" stroke="#2a3a40" stroke-width="0.9"/>
<rect x="502.73" y="460.4" width="14.17" height="56" fill="#C3EBF3" stroke="#6f8085" stroke-width="0.9"/>
<path d="M320.17 464.6V477.8M318.47 464.6h3.4M318.47 477.8h3.4" stroke="#1a1a1a" stroke-width="1.3" fill="none"/>
<path d="M334.5 459.4V478.6M332.8 459.4h3.4M332.8 478.6h3.4" stroke="#1a1a1a" stroke-width="1.3" fill="none"/>
<path d="M348.83 459.8V463.1M347.13 459.8h3.4M347.13 463.1h3.4" stroke="#1a1a1a" stroke-width="1.3" fill="none"/>
<path d="M374.1 484.9V485.9M372.4 484.9h3.4M372.4 485.9h3.4" stroke="#1a1a1a" stroke-width="1.3" fill="none"/>
<path d="M388.3 467.7V483.4M386.6 467.7h3.4M386.6 483.4h3.4" stroke="#1a1a1a" stroke-width="1.3" fill="none"/>
<path d="M402.5 461V474.6M400.8 461h3.4M400.8 474.6h3.4" stroke="#1a1a1a" stroke-width="1.3" fill="none"/>
<path d="M427.67 451V477.8M425.97 451h3.4M425.97 477.8h3.4" stroke="#1a1a1a" stroke-width="1.3" fill="none"/>
<path d="M442 425.9V450.4M440.3 425.9h3.4M440.3 450.4h3.4" stroke="#1a1a1a" stroke-width="1.3" fill="none"/>
<path d="M456.33 429.7V441M454.63 429.7h3.4M454.63 441h3.4" stroke="#1a1a1a" stroke-width="1.3" fill="none"/>
<path d="M481.48 462.1V485.5M479.78 462.1h3.4M479.78 485.5h3.4" stroke="#1a1a1a" stroke-width="1.3" fill="none"/>
<path d="M495.65 467.3V472.5M493.95 467.3h3.4M493.95 472.5h3.4" stroke="#1a1a1a" stroke-width="1.3" fill="none"/>
<path d="M509.82 456.2V464.6M508.12 456.2h3.4M508.12 464.6h3.4" stroke="#1a1a1a" stroke-width="1.3" fill="none"/>
<path d="M307.6 410.4H522.3" stroke="#000" stroke-width="1.35" fill="none"/>
<path d="M522.6 409.8V535.4" stroke="#000" stroke-width="1.2" fill="none"/>
<path d="M307.6 409.8V535.4" stroke="#222" stroke-width="1.7" fill="none"/>
<path d="M307.6 516.4H522.3" stroke="#000" stroke-width="1.15" fill="none"/>
<path d="M415.45 516.4V535" stroke="#000" stroke-width="1.5" fill="none"/>
<path d="M334.5 516.4V518.8" stroke="#222" stroke-width="1.3"/>
<path d="M388.3 516.4V518.8" stroke="#222" stroke-width="1.3"/>
<path d="M442 516.4V518.8" stroke="#222" stroke-width="1.3"/>
<path d="M495.65 516.4V518.8" stroke="#222" stroke-width="1.3"/>
<path d="M305.2 410.4H307.6" stroke="#111" stroke-width="1"/>
<text transform="translate(303.4,412.3) scale(1,1.1)" class="tk">0.35</text>
<path d="M305.2 431.6H307.6" stroke="#111" stroke-width="1"/>
<text transform="translate(303.4,433.5) scale(1,1.1)" class="tk">0.28</text>
<path d="M305.2 452.8H307.6" stroke="#111" stroke-width="1"/>
<text transform="translate(303.4,454.7) scale(1,1.1)" class="tk">0.21</text>
<path d="M305.2 474H307.6" stroke="#111" stroke-width="1"/>
<text transform="translate(303.4,475.9) scale(1,1.1)" class="tk">0.14</text>
<path d="M305.2 495.2H307.6" stroke="#111" stroke-width="1"/>
<text transform="translate(303.4,497.1) scale(1,1.1)" class="tk">0.07</text>
<path d="M305.2 516.4H307.6" stroke="#111" stroke-width="1"/>
<text transform="translate(303.4,518.3) scale(1,1.1)" class="tk">0.00</text>
<text x="334.5" y="525" class="xl">Control</text>
<text x="388.3" y="525" class="xl">Drought</text>
<text x="442" y="525" class="xl">Control</text>
<text x="495.65" y="525" class="xl">Drought</text>
<text transform="translate(291.9,463.75) rotate(-90) scale(1.04,1)" class="yt">Chlorophyll b (mg g<tspan baseline-shift="super" font-size="5.2">-1</tspan> FW)</text>
<text transform="translate(310.05,422.6) scale(0.92,1.12)" class="lt">H</text>
<text x="365.3" y="537.4" class="acc">16,178</text>
<text x="474.3" y="537.4" class="acc">16,180</text>
<text x="416.95" y="544.6" class="ax">Accessions</text>
<rect x="198.5" y="10.5" width="42.9" height="27.7" fill="#fff" stroke="#111" stroke-width="1.1"/>
<rect x="199.8" y="12.9" width="14.2" height="6.4" fill="#01B0E6" stroke="#203840" stroke-width="0.9"/>
<text transform="translate(215.9,17.8) scale(1.08,1)" class="lg">0 mM</text>
<rect x="199.8" y="21.2" width="14.2" height="6.4" fill="#3CCEEE" stroke="#2a3a40" stroke-width="0.9"/>
<text transform="translate(215.9,26.8) scale(1.08,1)" class="lg">50 mM</text>
<rect x="199.8" y="30.6" width="14.2" height="6.4" fill="#C3EBF3" stroke="#6f8085" stroke-width="0.9"/>
<text transform="translate(215.9,35.4) scale(1.08,1)" class="lg">100 mM</text>
</svg>
</body></html>
